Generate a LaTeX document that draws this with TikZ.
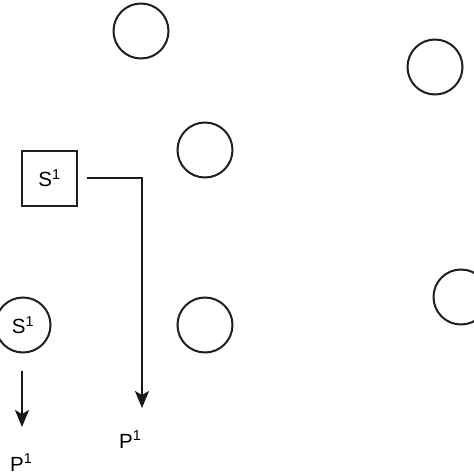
\documentclass[tikz,border=0pt]{standalone}
\usepackage{fontspec}
\setmainfont{Liberation Sans}
\usetikzlibrary{arrows.meta}
\begin{document}
\begin{tikzpicture}[x=1pt,y=-1pt,
  ring/.style={draw=black!88, line width=2pt, circle, minimum size=55pt, inner sep=0pt},
  sbox/.style={draw=black!88, line width=2pt, minimum size=55pt, inner sep=0pt},
  lbl/.style={font=\fontsize{20.5}{22}\selectfont, inner sep=0pt},
  arr/.style={draw=black!90, line width=1.8pt, -{Stealth[length=17pt,width=14pt,inset=4pt]}}]
\useasboundingbox (0,0) rectangle (474,474);
\node[ring] (c1) at (141,31) {};
\node[ring] (c2) at (205,150) {};
\node[ring] (c3) at (205,325) {};
\node[ring] (c4) at (435,67) {};
\node[ring] (c5) at (461,297) {};
\node[sbox, lbl] (sq) at (49.5,178) {S\textsuperscript{1}};
\node[ring, lbl] (s1c) at (23,325) {S\textsuperscript{1}};
\node[lbl, anchor=base west] (p1m) at (119,448) {P\textsuperscript{1}};
\node[lbl, anchor=base west] (p1b) at (10,471) {P\textsuperscript{1}};
\coordinate (bend) at (142,178);
\coordinate (tipm) at (142,408);
\coordinate (tipb) at (22,427);
\draw[arr, shorten <=9pt] (sq.east) -- (bend) -- (tipm);
\draw[arr, shorten <=17pt] (s1c.south -| tipb) -- (tipb);
\end{tikzpicture}
\end{document}
